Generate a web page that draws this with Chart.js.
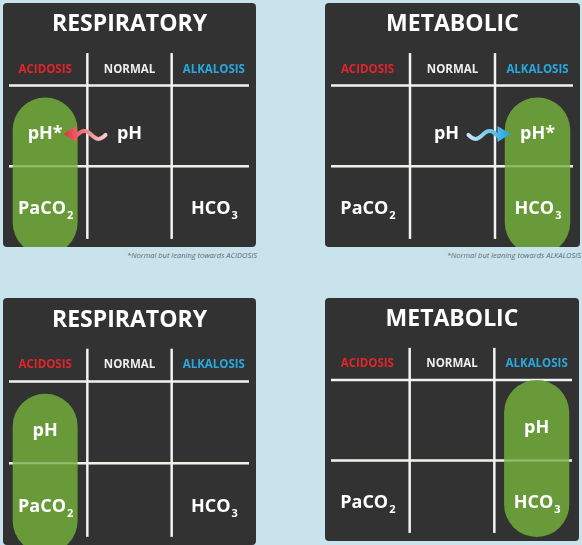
<!DOCTYPE html>
<html>
<head>
<meta charset="utf-8">
<script src="https://cdn.jsdelivr.net/npm/chart.js@4.4.0/dist/chart.umd.min.js"></script>
<style>
  body { margin: 0; width: 582px; height: 545px; background: #c9e3ec; position: relative; overflow: hidden; font-family: "Open Sans", sans-serif; }
  .panel { position: absolute; background: #323232; border-radius: 4px; }
  .note { position: absolute; font-size: 7.5px; font-style: italic; color: #5f6f74; text-align: right; }
</style>
</head>
<body>
<div class="panel" style="left:3px;top:3px;width:253px;height:244px"><canvas id="c0"></canvas></div>
<div class="panel" style="left:325px;top:3px;width:255px;height:244px"><canvas id="c1"></canvas></div>
<div class="panel" style="left:3px;top:298px;width:253px;height:247px"><canvas id="c2"></canvas></div>
<div class="panel" style="left:325px;top:298px;width:254px;height:243px"><canvas id="c3"></canvas></div>
<div class="note" id="n0" style="left:0;top:250px;width:257px"></div>
<div class="note" id="n1" style="left:300px;top:250px;width:281px"></div>
<script>
// data
const states = ['ACIDOSIS', 'NORMAL', 'ALKALOSIS'];
const stateColors = ['#e3242b', '#eeeeee', '#29a8df'];
const panelTitles = ['RESPIRATORY', 'METABOLIC', 'RESPIRATORY', 'METABOLIC'];
const pillColumn = [0, 2, 0, 2];
const pillRange = [[-0.1, 1.85], [-0.1, 1.85], [-0.1, 1.85], [0.05, 2.0]];
const phColumn = [0, 2, 0, 2];
const phFrom = [1, 1, null, null];      // where pH started, for the wavy arrow
const phStar = [true, true, false, false];
const paco2Column = [0, 0, 0, 0];
const hco3Column = [2, 2, 2, 2];
const footnotes = ['*Normal but leaning towards ACIDOSIS', '*Normal but leaning towards ALKALOSIS', '', ''];
const arrowColors = [['#f9cdd2', '#e8323e'], ['#c4eaf6', '#25a6e0']];

// y positions (row units)
const rowLines = [1, 2];
const titleY = 2.75, headerY = 2.2, gridTop = 2.4, gridBottom = 0.1;
const phY = 1.4, bottomRowY = 0.47;

const FONT = '"Open Sans", sans-serif';

function drawSub(ctx, main, sub, x, y, size) {
  ctx.font = 'bold ' + size + 'px ' + FONT;
  const w1 = ctx.measureText(main).width;
  ctx.font = 'bold ' + Math.round(size * 0.6) + 'px ' + FONT;
  const w2 = ctx.measureText(sub).width;
  const x0 = x - (w1 + w2) / 2;
  ctx.textAlign = 'left';
  ctx.font = 'bold ' + size + 'px ' + FONT;
  ctx.fillText(main, x0, y);
  ctx.font = 'bold ' + Math.round(size * 0.6) + 'px ' + FONT;
  ctx.fillText(sub, x0 + w1 + 1, y + size * 0.38);
}

function makeChart(i) {
  const gridPlugin = {
    id: 'grid' + i,
    beforeDatasetsDraw(chart) {
      const { ctx, scales: { x, y }, width } = chart;
      ctx.save();
      ctx.strokeStyle = '#f2f2f2';
      ctx.lineWidth = 2.5;
      rowLines.forEach(v => {
        const py = y.getPixelForValue(v);
        ctx.beginPath(); ctx.moveTo(6, py); ctx.lineTo(width - 7, py); ctx.stroke();
      });
      [0, 1].forEach(c => {
        const px = (x.getPixelForValue(c) + x.getPixelForValue(c + 1)) / 2;
        ctx.beginPath(); ctx.moveTo(px, y.getPixelForValue(gridTop)); ctx.lineTo(px, y.getPixelForValue(gridBottom)); ctx.stroke();
      });
      ctx.restore();
    },
    afterDatasetsDraw(chart) {
      const { ctx, scales: { x, y }, width } = chart;
      ctx.save();
      // faint line through the pill
      ctx.strokeStyle = 'rgba(220,240,200,0.35)';
      ctx.lineWidth = 2;
      const ly = y.getPixelForValue(1);
      ctx.beginPath(); ctx.moveTo(6, ly); ctx.lineTo(width - 7, ly); ctx.stroke();

      ctx.textBaseline = 'middle';
      ctx.fillStyle = '#ffffff';
      ctx.textAlign = 'center';
      ctx.font = 'bold 23px ' + FONT;
      ctx.fillText(panelTitles[i], width / 2, y.getPixelForValue(titleY));
      ctx.font = 'bold 11.5px ' + FONT;
      states.forEach((s, c) => {
        ctx.fillStyle = stateColors[c];
        ctx.fillText(s, x.getPixelForValue(c), y.getPixelForValue(headerY));
      });
      ctx.fillStyle = '#ffffff';
      ctx.font = 'bold 18px ' + FONT;
      ctx.fillText('pH' + (phStar[i] ? '*' : ''), x.getPixelForValue(phColumn[i]), y.getPixelForValue(phY));
      if (phFrom[i] !== null) {
        const dir = phColumn[i] < phFrom[i] ? -1 : 1;
        ctx.fillText('pH', x.getPixelForValue(phFrom[i]) + (dir < 0 ? 0 : -6), y.getPixelForValue(phY));
        // wavy arrow
        const cy = y.getPixelForValue(phY) + 1;
        const sx = x.getPixelForValue(phFrom[i]) + (dir < 0 ? -24 : 16);
        const ex = sx + dir * 40;
        const cols = arrowColors[dir < 0 ? 0 : 1];
        const g = ctx.createLinearGradient(sx, 0, ex, 0);
        g.addColorStop(0, cols[0]); g.addColorStop(1, cols[1]);
        ctx.strokeStyle = g; ctx.fillStyle = g;
        ctx.lineWidth = 4; ctx.lineCap = 'round';
        ctx.beginPath();
        const len = Math.abs(ex - sx) - 9;
        for (let t = 0; t <= len; t++) {
          const px = sx + dir * t;
          const py = cy + 4 * Math.sin(t / len * Math.PI * 2.2);
          t === 0 ? ctx.moveTo(px, py) : ctx.lineTo(px, py);
        }
        ctx.stroke();
        const hx = sx + dir * len;
        ctx.beginPath();
        ctx.moveTo(ex + dir * 2, cy - 1);
        ctx.lineTo(hx - dir * 2, cy - 9);
        ctx.lineTo(hx - dir * 2, cy + 7);
        ctx.closePath(); ctx.fill();
        ctx.fillStyle = '#ffffff';
      }
      drawSub(ctx, 'PaCO', '2', x.getPixelForValue(paco2Column[i]), y.getPixelForValue(bottomRowY), 18);
      drawSub(ctx, 'HCO', '3', x.getPixelForValue(hco3Column[i]), y.getPixelForValue(bottomRowY), 18);
      ctx.restore();
    }
  };
  const pillData = states.map((s, c) => c === pillColumn[i] ? pillRange[i] : null);
  new Chart(document.getElementById('c' + i), {
    type: 'bar',
    data: {
      labels: states,
      datasets: [{
        data: pillData,
        backgroundColor: 'rgba(106,158,58,0.97)',
        borderRadius: 33,
        borderSkipped: false,
        barPercentage: 0.77,
        categoryPercentage: 1
      }]
    },
    options: {
      responsive: true,
      maintainAspectRatio: false,
      animation: false,
      layout: { padding: 0 },
      plugins: { legend: { display: false }, tooltip: { enabled: false } },
      scales: {
        x: { display: false, offset: true },
        y: { display: false, min: 0, max: 3.02 }
      }
    },
    plugins: [gridPlugin]
  });
}

[0, 1, 2, 3].forEach(makeChart);
document.getElementById('n0').textContent = footnotes[0];
document.getElementById('n1').textContent = footnotes[1];
</script>
</body>
</html>
